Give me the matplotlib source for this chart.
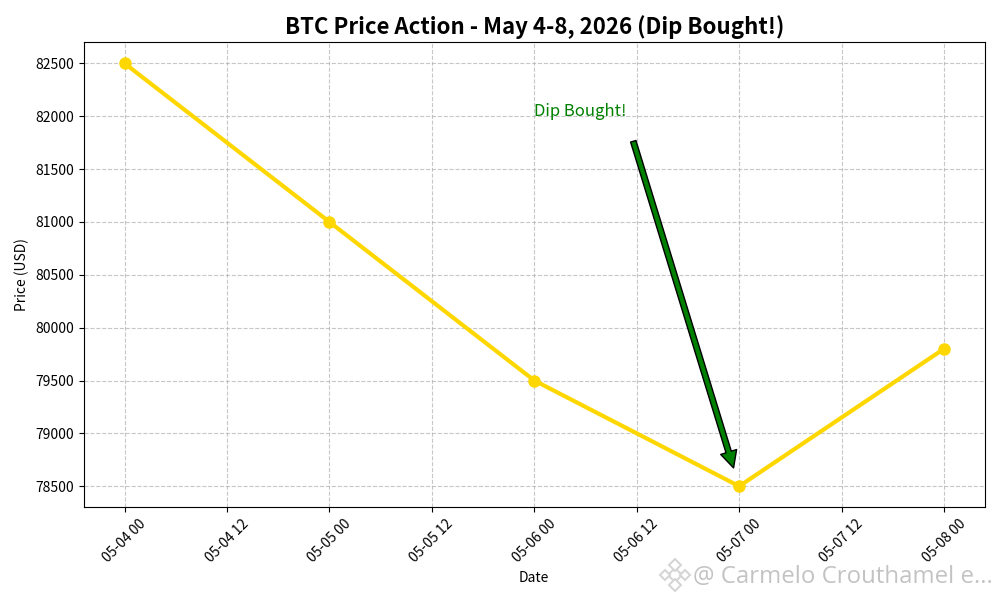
# -*- coding: utf-8 -*-
import pandas as pd
import matplotlib.pyplot as plt
from matplotlib.lines import Line2D

plt.rcParams['font.family'] = ['Noto Sans CJK SC', 'DejaVu Sans']

# Data
dates = pd.to_datetime(['2026-05-04', '2026-05-05', '2026-05-06', '2026-05-07', '2026-05-08'])
prices = [82500, 81000, 79500, 78500, 79800]

fig, ax = plt.subplots(figsize=(10, 6), dpi=100)
ax.plot(dates, prices, color='gold', marker='o', linewidth=3, markersize=8)
ax.set_title('BTC Price Action - May 4-8, 2026 (Dip Bought!)', fontsize=16, fontweight='bold')
ax.set_xlabel('Date', fontsize=10)
ax.set_ylabel('Price (USD)', fontsize=10)
ax.grid(True, linestyle='--', alpha=0.7)
ax.tick_params(axis='x', rotation=45)
ax.annotate('Dip Bought!', xy=(dates[3], prices[3]), xytext=(dates[2], 82000),
            color='green', fontsize=12,
            arrowprops=dict(facecolor='green', shrink=0.05))
fig.tight_layout()

# Watermark
fig.text(0.993, 0.038, '@ Carmelo Crouthamel e...', color='#aaaaaa', alpha=0.7,
         fontsize=17.3, family='Open Sans', ha='right', va='center')

# Logo next to the watermark, one big diamond and four small ones
logo_x = [0.675, 0.675, 0.675, 0.665, 0.685]
logo_y = [0.0417, 0.0584, 0.0250, 0.0417, 0.0417]
logo_size = [7, 6, 6, 5, 5]
for x, y, s in zip(logo_x, logo_y, logo_size):
    fig.add_artist(Line2D([x], [y], transform=fig.transFigure, marker='D', markersize=s,
                          markerfacecolor='white', markeredgecolor='#d4d4d4',
                          markeredgewidth=1.4, linestyle='none'))

fig.savefig('out.png', dpi=100)
